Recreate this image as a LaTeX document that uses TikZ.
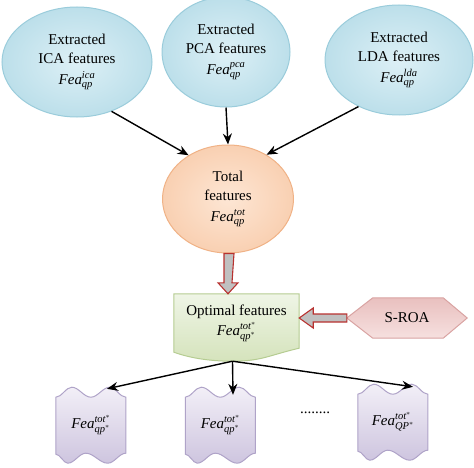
\documentclass[tikz,border=0pt]{standalone}
\usepackage{fontspec}
\usepackage{amsmath}
\setmainfont{Liberation Serif}
\usetikzlibrary{shapes.geometric,arrows.meta,calc,backgrounds}

\definecolor{bluein}{HTML}{DDF0F6}
\definecolor{blueout}{HTML}{BCDFEA}
\definecolor{blueline}{HTML}{9ACCDB}
\definecolor{peachin}{HTML}{FDE6D4}
\definecolor{peachout}{HTML}{F9D0B2}
\definecolor{peachline}{HTML}{F0B286}
\definecolor{greentop}{HTML}{EFF5E6}
\definecolor{greenbot}{HTML}{D5E3BC}
\definecolor{greenline}{HTML}{B5CC91}
\definecolor{pinktop}{HTML}{E9C0BF}
\definecolor{pinkbot}{HTML}{F6E0DF}
\definecolor{pinkline}{HTML}{D9A3A2}
\definecolor{lavtop}{HTML}{F2EFF7}
\definecolor{lavbot}{HTML}{CEC5DF}
\definecolor{lavline}{HTML}{AFA3C8}
\definecolor{arrowgray}{HTML}{C0C0C0}
\definecolor{arrowred}{HTML}{B8312F}

% feature symbol: Fea with super- and subscript
\newcommand{\fea}[2]{$\textit{Fea}^{\textit{#1}}_{\textit{#2}}$}

\tikzset{
  txt/.style={font=\fontsize{15}{19}\selectfont, align=center},
  featblob/.style={txt, ellipse, draw=blueline, line width=1pt,
    inner color=bluein, outer color=blueout, minimum height=110pt},
  totblob/.style={txt, ellipse, draw=peachline, line width=1pt,
    inner color=peachin, outer color=peachout},
  docbox/.style={draw=greenline, line width=1pt, top color=greentop, bottom color=greenbot},
  hexbox/.style={draw=pinkline, line width=1pt, top color=pinktop, bottom color=pinkbot},
  wavebox/.style={draw=lavline, line width=1pt, top color=lavtop, bottom color=lavbot},
  link/.style={-{Stealth[length=11pt,width=9pt]}, line width=1.4pt},
  bigarrow/.style={draw=arrowred, fill=arrowgray, line width=1.1pt, line join=miter},
}

\begin{document}
\begin{tikzpicture}[x=1pt, y=1pt]

    \useasboundingbox (0,0) rectangle (474,467);

    % Extracted feature ellipses
    \node[featblob, minimum width=150pt] (ica) at (77,405)
        {Extracted\\ICA features\\[2pt]\fea{ica}{qp}};
    \node[featblob, minimum width=128pt] (pca) at (226,415)
        {Extracted\\PCA features\\[2pt]\fea{pca}{qp}};
    \node[featblob, minimum width=148pt] (lda) at (399,407)
        {Extracted\\LDA features\\[2pt]\fea{lda}{qp}};

    % Total features
    \node[totblob, minimum width=131pt, minimum height=108pt] (tot) at (228,268)
        {Total\\features\\[2pt]\fea{tot}{qp}};

    % Optimal features and S-ROA (outlines drawn below)
    \node[txt, minimum width=125pt, minimum height=58pt] (opt) at (236.5,144)
        {Optimal features\\[1pt]\fea{tot$^*$}{qp$^*$}};
    \node[txt, minimum width=120pt, minimum height=40pt] (sroa) at (407,149) {S-ROA};

    % Output boxes
    \node[txt, minimum width=70pt, minimum height=76pt] (b1) at (91,42) {\fea{tot$^*$}{qp$^*$}};
    \node[txt, minimum width=70pt, minimum height=76pt] (b2) at (220.5,42) {\fea{tot$^*$}{qp$^*$}};
    \node[txt, minimum width=70pt, minimum height=76pt] (b3) at (393,45) {\fea{tot$^*$}{QP$^*$}};
    \node[txt] (dots) at (315,54) {........};

    \begin{scope}[on background layer]
        % document shape
        \draw[docbox] (opt.north west) -- (opt.north east) -- ([yshift=4pt]opt.south east)
            .. controls ([xshift=-30pt,yshift=-3pt]opt.south east) and ([xshift=25pt,yshift=-9pt]opt.south)
            .. ([xshift=-4pt,yshift=-9pt]opt.south)
            .. controls ([xshift=-30pt,yshift=-9pt]opt.south) and ([xshift=14pt,yshift=-5pt]opt.south west)
            .. (opt.south west) -- cycle;
        % hexagon
        \draw[hexbox] (sroa.west) -- ([xshift=26pt]sroa.north west) -- ([xshift=-24pt]sroa.north east)
            -- (sroa.east) -- ([xshift=-24pt]sroa.south east) -- ([xshift=26pt]sroa.south west) -- cycle;
        % wavy boxes
        \foreach \bx in {b1,b2,b3}{
            \draw[wavebox, shift={(\bx.south west)}] (0,9) -- (0,66)
                cos (8,71) sin (16,76) cos (25.5,71) sin (35,66)
                cos (44.5,71) sin (54,76) cos (62,71) sin (70,66)
                -- (70,10) cos (61,5) sin (52,0) cos (41,5) sin (30,10)
                cos (21,5) sin (12,0) cos (6,4.5) sin (0,9) -- cycle;
        }
    \end{scope}

    % Arrows into total features
    \draw[link] (ica.-55) -- (tot.132);
    \draw[link] (pca.south) -- (tot.north);
    \draw[link] (lda.-131) -- (tot.49);

    % Hollow arrow down
    \draw[bigarrow] ($(tot.south)+(-4,0)$) -- ($(tot.south |- opt.north)+(-4,11)$) -- ++(-6,0)
        -- (tot.south |- opt.north) -- ++(10,11) -- ++(-6,0) -- ($(tot.south)+(6,0)$) -- cycle;

    % Hollow arrow from S-ROA
    \draw[bigarrow] ($(sroa.west)+(0,4)$) -- ($(opt.east |- sroa.west)+(14,4)$) -- ++(0,6)
        -- (opt.east |- sroa.west) -- ++(14,-10) -- ++(0,6) -- ($(sroa.west)+(0,-4)$) -- cycle;

    % Arrows to output boxes
    \coordinate (split) at ([xshift=-4pt,yshift=-9pt]opt.south);
    \draw[link] (split) -- ([xshift=16pt,yshift=-2pt]b1.north);
    \draw[link] (split) -- ([xshift=12.5pt,yshift=-8pt]b2.north);
    \draw[link] (split) -- ([xshift=20pt,yshift=-3pt]b3.north);

\end{tikzpicture}
\end{document}
